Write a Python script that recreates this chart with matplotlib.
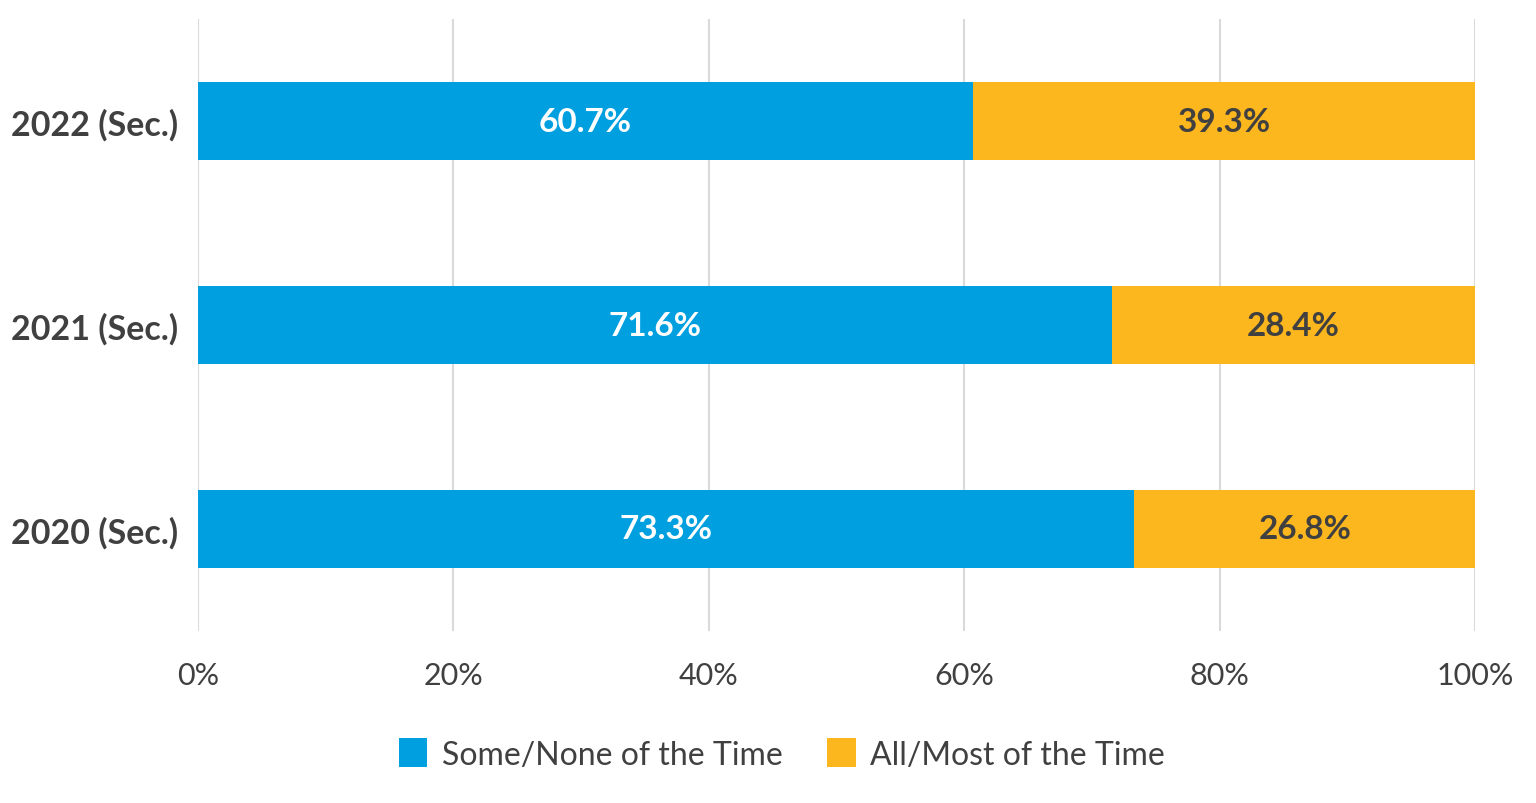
import matplotlib.pyplot as plt
import numpy as np

plt.rcParams['font.family'] = ['Lato', 'DejaVu Sans']

categories = ['2020 (Sec.)', '2021 (Sec.)', '2022 (Sec.)']
some_none = [73.3, 71.6, 60.7]
all_most = [26.8, 28.4, 39.3]
series_names = ['Some/None of the Time', 'All/Most of the Time']
xticks = [0, 20, 40, 60, 80, 100]

blue = '#009FDF'
yellow = '#FDB71E'
dark = '#404040'

fig = plt.figure(figsize=(15.36, 8.04), dpi=100)
ax = fig.add_axes([0.1289, 0.214, 0.8314, 0.761])

y = np.arange(len(categories))
h = 0.38
b1 = ax.barh(y, some_none, height=h, color=blue, label=series_names[0], zorder=2)
b2 = ax.barh(y, all_most, height=h, left=some_none, color=yellow, label=series_names[1], zorder=2)

for i in range(len(categories)):
    ax.text(some_none[i] / 2, y[i], f'{some_none[i]:.1f}%', ha='center', va='center',
            color='white', fontsize=24, fontweight='bold', zorder=3)
    ax.text(some_none[i] + all_most[i] / 2, y[i], f'{all_most[i]:.1f}%', ha='center', va='center',
            color=dark, fontsize=24, fontweight='bold', zorder=3)

ax.set_xlim(0, 100)
ax.set_ylim(-0.5, 2.5)
ax.set_yticks(y)
ax.set_yticklabels(categories, fontsize=24.5, fontweight='bold', color=dark)
ax.set_xticks(xticks)
ax.set_xticklabels([f'{t}%' for t in xticks], fontsize=22, color=dark)
ax.tick_params(length=0)
ax.tick_params(axis='x', pad=22)
ax.tick_params(axis='y', pad=14)
ax.grid(axis='x', color='#dadada', linewidth=1.5, zorder=0)
for s in ax.spines.values():
    s.set_visible(False)

fig.legend(handles=[b1, b2], loc='center', bbox_to_anchor=(0.509, 0.061), ncol=2,
           frameon=False, fontsize=23, handlelength=0.9, handleheight=1.0,
           columnspacing=1.4, handletextpad=0.45, labelcolor=dark)

fig.savefig('out.png', dpi=100)
